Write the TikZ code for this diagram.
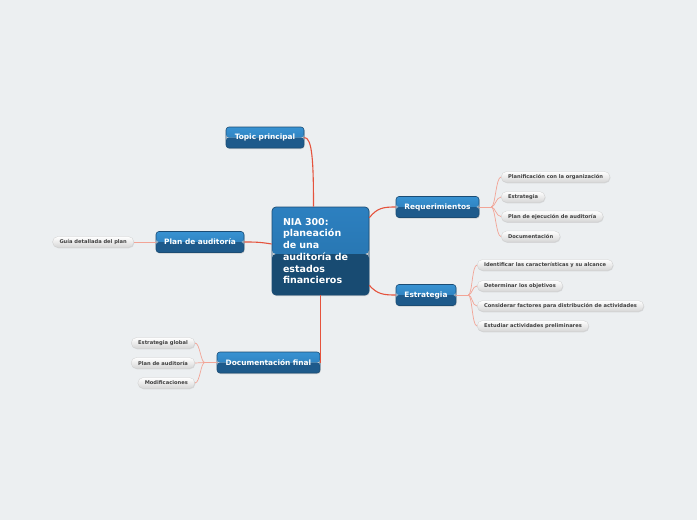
\documentclass[tikz,border=0pt]{standalone}
\usepackage{fontspec}
\setmainfont{DejaVu Sans}
\usetikzlibrary{shadows,calc}

\definecolor{bgcol}{HTML}{ECEFF1}
\definecolor{blueTop}{HTML}{3892D2}
\definecolor{blueMid}{HTML}{2877B3}
\definecolor{blueLow}{HTML}{1E5A8B}
\definecolor{blueEdge}{HTML}{1B4C74}
\definecolor{niaTop}{HTML}{2D80C0}
\definecolor{niaMid}{HTML}{2470A8}
\definecolor{niaLow}{HTML}{184B72}
\definecolor{linkred}{HTML}{E5533D}
\definecolor{sublinkred}{HTML}{F2A496}
\definecolor{pilltext}{HTML}{404040}
\definecolor{pillLow}{HTML}{D6D6D6}
\definecolor{pillEdge}{HTML}{CFCFCF}

\tikzset{
  centerbox/.style={rounded corners=4pt, draw=blueEdge, line width=0.7pt,
    text=white, font=\bfseries\fontsize{9.5}{11.7}\selectfont,
    text width=75pt, align=left, inner xsep=11pt, minimum height=88pt,
    drop shadow={shadow xshift=0.6pt, shadow yshift=-1pt, opacity=0.3},
    path picture={
      \shade[top color=niaTop, bottom color=niaMid] (path picture bounding box.north west) rectangle ($(path picture bounding box.east)+(0,3)$);
      \fill[niaLow] ($(path picture bounding box.west)+(0,3)$) rectangle (path picture bounding box.south east);
    }},
  topicbox/.style={rounded corners=3pt, draw=blueEdge, line width=0.6pt,
    text=white, font=\bfseries\fontsize{7.4}{9}\selectfont,
    minimum height=21pt, inner xsep=2pt, inner ysep=0pt,
    drop shadow={shadow xshift=0.6pt, shadow yshift=-1pt, opacity=0.3},
    path picture={
      \shade[top color=blueTop, bottom color=blueMid] (path picture bounding box.north west) rectangle (path picture bounding box.east);
      \fill[blueLow] (path picture bounding box.west) rectangle (path picture bounding box.south east);
    }},
  pill/.style={rounded corners=5.5pt, draw=pillEdge, line width=0.3pt,
    top color=white, bottom color=pillLow, text=pilltext,
    font=\bfseries\fontsize{5.15}{6}\selectfont,
    minimum height=11pt, inner xsep=7pt, inner ysep=0pt,
    drop shadow={shadow xshift=0.5pt, shadow yshift=-0.8pt, opacity=0.2}},
  mainlink/.style={draw=linkred, line width=1.1pt},
  sublink/.style={draw=sublinkred, line width=0.7pt}
}

\begin{document}
\begin{tikzpicture}[x=1pt,y=-1pt]
  % background
  \fill[bgcol] (0,0) rectangle (697,520);

  % Drawing central topic
  \node[centerbox] (nia) at (320.5,251) {NIA 300:\\planeación\\de una\\auditoría de\\estados\\financieros};

  % Drawing main topics
  \node[topicbox, minimum width=78pt] (topic) at (265,137.5) {Topic principal};
  \node[topicbox, minimum width=83pt] (reque) at (437.5,207) {Requerimientos};
  \node[topicbox, minimum width=60pt] (estra) at (426,295) {Estrategia};
  \node[topicbox, minimum width=88pt] (plan) at (200,242) {Plan de auditoría};
  \node[topicbox, minimum width=103pt] (docfin) at (268.5,362.5) {Documentación final};

  % Marking subtopics of Requerimientos
  \node[pill, anchor=west] (r1) at (501,177) {Planificación con la organización};
  \node[pill, anchor=west] (r2) at (501,197) {Estrategia};
  \node[pill, anchor=west] (r3) at (501,216.5) {Plan de ejecución de auditoría};
  \node[pill, anchor=west] (r4) at (501,236.5) {Documentación};

  % Marking subtopics of Estrategia
  \node[pill, anchor=west] (e1) at (477,265) {Identificar las características y su alcance};
  \node[pill, anchor=west] (e2) at (477,286) {Determinar los objetivos};
  \node[pill, anchor=west] (e3) at (477,306) {Considerar factores para distribución de actividades};
  \node[pill, anchor=west] (e4) at (477,326) {Estudiar actividades preliminares};

  % Marking subtopic of Plan de auditoria
  \node[pill, anchor=east] (p1) at (134,242) {Guía detallada del plan};

  % Marking subtopics of Documentacion final
  \node[pill, anchor=east] (d1) at (195,343) {Estrategia global};
  \node[pill, anchor=east] (d2) at (195,363) {Plan de auditoría};
  \node[pill, anchor=east] (d3) at (195,383) {Modificaciones};

  % Drawing main links
  \draw[mainlink] (topic.east) .. controls +(8,0) and +(0,-45) .. ($(nia.north)+(-7,0)$);
  \draw[mainlink] ($(nia.north east)+(0,11)$) .. controls +(8,-10) and +(-12,0) .. (reque.west);
  \draw[mainlink] ($(nia.south east)+(0,-10)$) .. controls +(8,9) and +(-12,0) .. (estra.west);
  \draw[mainlink] ($(nia.west)+(0,-7)$) .. controls +(-12,-2) and +(10,0) .. (plan.east);
  \draw[mainlink] (docfin.east |- nia.south) -- (docfin.east);

  % Drawing sub links
  \draw[sublink] (reque.east) -- ++(12,0) coordinate (rq);
  \foreach \c in {r1,r2,r3,r4}
    \draw[sublink] (rq) .. controls +(4,0) and +(-5,0) .. (\c.west);
  \draw[sublink] (estra.east) -- ++(12,0) coordinate (eq);
  \foreach \c in {e1,e2,e3,e4}
    \draw[sublink] (eq) .. controls +(4,0) and +(-5,0) .. (\c.west);
  \draw[sublink] (plan.west) -- (p1.east);
  \draw[sublink] (docfin.west) -- ++(-12,0) coordinate (dq);
  \foreach \c in {d1,d2,d3}
    \draw[sublink] (dq) .. controls +(-4,0) and +(5,0) .. (\c.east);
\end{tikzpicture}
\end{document}
